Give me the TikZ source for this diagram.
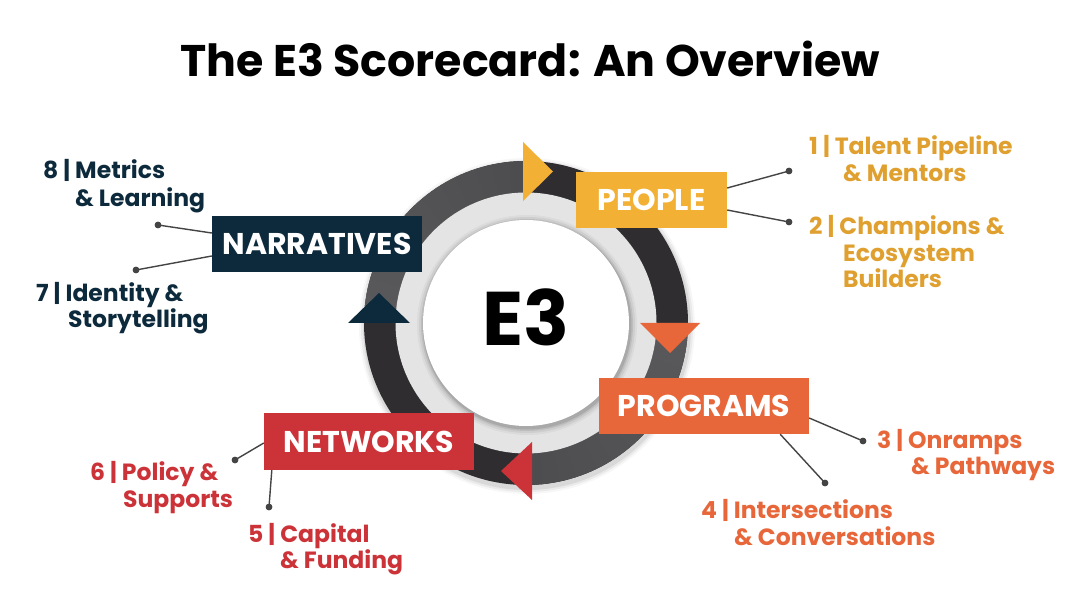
\documentclass[tikz,border=0pt]{standalone}
\usepackage{fontspec}
\setmainfont{Poppins}
\usetikzlibrary{calc}
\definecolor{ppl}{HTML}{F2B134}
\definecolor{pplt}{HTML}{E0A030}
\definecolor{prg}{HTML}{E8673A}
\definecolor{net}{HTML}{CC3338}
\definecolor{nar}{HTML}{0C2A3C}
\definecolor{ringdark}{HTML}{2F2D30}
\definecolor{ringlight}{HTML}{5A5A5C}
\definecolor{ringgrey}{HTML}{E4E4E4}
\definecolor{conncol}{HTML}{444444}
\begin{document}
\begin{tikzpicture}[x=1pt,y=-1pt,
  box/.style={fill=#1, text=white, font=\fontsize{30}{30}\selectfont\bfseries, minimum height=56, inner sep=0pt},
  lab/.style={anchor=base west, text=#1, font=\fontsize{23.5}{23.5}\selectfont\bfseries, inner sep=0pt},
  dot/.style={circle, fill=conncol, minimum size=6.5, inner sep=0pt},
  conn/.style={draw=conncol, line width=1.4pt}]
\useasboundingbox (0,0) rectangle (1080,596);
\fill[white] (0,0) rectangle (1080,596);
\coordinate (C) at (526,323);
% title
\node[anchor=base, inner sep=0pt, font=\fontsize{44.3}{44.3}\selectfont\bfseries] (title) at (530.5,77) {The E3 Scorecard: An Overview};
% ring shadow
\foreach \r/\o in {168/0.03,166/0.05,164/0.07}{\fill[black, opacity=\o] ($(C)+(1,3)$) circle (\r);}
% dark ring
\fill[ringdark, even odd rule] (C) circle (162) (C) circle (130);
% light segments with gradient
\foreach \s in {-180,0}{
  \foreach \i in {0,2,...,88}{
    \pgfmathsetmacro{\t}{100-\i*0.35}
    \pgfmathsetmacro{\aa}{\s+\i}
    \pgfmathsetmacro{\ab}{\s+\i+2.6}
    \fill[ringlight!\t!ringdark] ($(C)+(\aa:162)$) -- ($(C)+(\ab:162)$) -- ($(C)+(\ab:130)$) -- ($(C)+(\aa:130)$) -- cycle;
  }
}
% inner grey ring
\fill[ringgrey] (C) circle (130.5);
% shadow around white disc
\foreach \r/\o in {110/0.04,108/0.06,106/0.08,104.5/0.10}{\fill[black, opacity=\o] ($(C)+(1,2)$) circle (\r);}
\fill[white] (C) circle (103);
\node[anchor=base, inner sep=0pt, font=\fontsize{76}{76}\selectfont\bfseries] (e3) at (526,345) {E3};
% arrow triangles
\fill[ppl] (523,142) -- (553,171.5) -- (523,201) -- cycle;
\fill[prg] (640,323) -- (700,323) -- (670,353) -- cycle;
\fill[net] (532,442) -- (501,471) -- (532,500) -- cycle;
\fill[nar] (348,323) -- (379,293) -- (410,323) -- cycle;
% boxes
\node[box=ppl, minimum width=151] (people) at (651.5,200) {PEOPLE};
\node[box=nar, minimum width=210] (narr) at (317,244) {NARRATIVES};
\node[box=net, minimum width=210, minimum height=57] (netw) at (369,441.5) {NETWORKS};
\node[box=prg, minimum width=210] (prog) at (704,406) {PROGRAMS};
% dots
\node[dot] (d1) at (789,171) {};
\node[dot] (d2) at (789,222) {};
\node[dot] (d8) at (158,225) {};
\node[dot] (d7) at (136,270) {};
\node[dot] (d6) at (235,460) {};
\node[dot] (d5) at (269,507) {};
\node[dot] (d3) at (863,441) {};
\node[dot] (d4) at (825,483) {};
% connectors
\draw[conn] ($(people.east)+(0,-12)$) -- (d1.center);
\draw[conn] ($(people.east)+(0,10)$) -- (d2.center);
\draw[conn] ($(narr.west)+(0,-11)$) -- (d8.center);
\draw[conn] ($(narr.west)+(0,12)$) -- (d7.center);
\draw[conn] ($(netw.west)+(0,1.5)$) -- (d6.center);
\draw[conn] ($(netw.south west)+(8,0)$) -- (d5.center);
\draw[conn] ($(prog.east)+(0,12)$) -- (d3.center);
\draw[conn] ($(prog.south east)+(-29,0)$) -- (d4.center);
\foreach \d in {d1,d2,d3,d4,d5,d6,d7,d8}{\fill[conncol] (\d) circle (3.3);}
% labels
\node[lab=pplt] (l1a) at (809,155) {1 | Talent Pipeline};
\node[lab=pplt] (l1b) at (843,182) {\& Mentors};
\node[lab=pplt] (l2a) at (809,235) {2 | Champions \&};
\node[lab=pplt] (l2b) at (843,262) {Ecosystem};
\node[lab=pplt] (l2c) at (843,288) {Builders};
\node[lab=nar] (l8a) at (43,179) {8 | Metrics};
\node[lab=nar] (l8b) at (75,207) {\& Learning};
\node[lab=nar] (l7a) at (36,302) {7 | Identity \&};
\node[lab=nar] (l7b) at (68,328) {Storytelling};
\node[lab=net] (l6a) at (90,480) {6 | Policy \&};
\node[lab=net] (l6b) at (123,507) {Supports};
\node[lab=net] (l5a) at (248,542) {5 | Capital};
\node[lab=net] (l5b) at (280,568) {\& Funding};
\node[lab=prg] (l3a) at (877,448) {3 | Onramps};
\node[lab=prg] (l3b) at (911,474) {\& Pathways};
\node[lab=prg] (l4a) at (701,518) {4 | Intersections};
\node[lab=prg] (l4b) at (734,545) {\& Conversations};
\end{tikzpicture}
\end{document}
